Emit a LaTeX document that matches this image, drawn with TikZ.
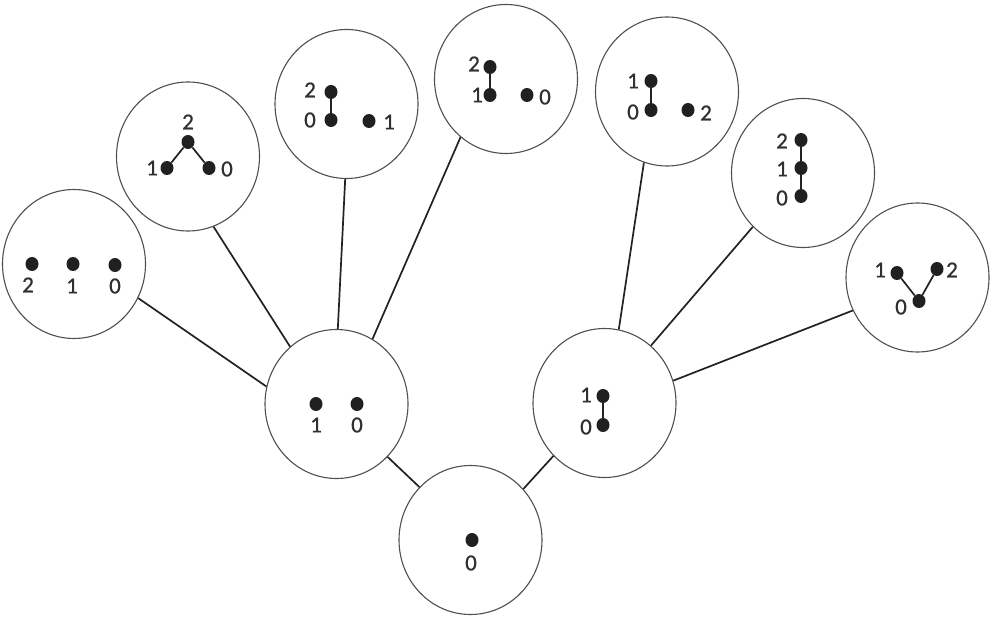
\documentclass[tikz,border=0pt]{standalone}
\usepackage{fontspec}
\setmainfont{Carlito}
\newfontfamily\labfont{Carlito}[FakeBold=0.7]
\usetikzlibrary{shapes.geometric}
\definecolor{circc}{HTML}{505050}
\definecolor{dotc}{HTML}{202020}
\definecolor{linec}{HTML}{222222}
\definecolor{labc}{HTML}{303030}
\begin{document}
\begin{tikzpicture}[x=1pt,y=-1pt,
  big/.style={ellipse, draw=circc, line width=1.1pt, minimum width=143pt, minimum height=149pt, inner sep=0pt, fill=white},
  pt/.style={ellipse, fill=dotc, minimum width=13pt, minimum height=14pt, inner sep=0pt},
  lab/.style={font=\labfont\fontsize{23}{23}\selectfont, text=labc, inner sep=0pt},
  conn/.style={line width=1.7pt, draw=linec},
  bond/.style={line width=1.7pt, draw=linec}]
\useasboundingbox (0,0) rectangle (992,617);
\fill[white] (0,0) rectangle (992,617);
% circles
\node[big] (r) at (470.5,540) {};
\node[big] (a) at (336.5,404) {};
\node[big] (b) at (604.5,403) {};
\node[big] (c1) at (74,264) {};
\node[big] (c2) at (188,156.5) {};
\node[big] (c3) at (346.5,104) {};
\node[big] (c4) at (506,79) {};
\node[big] (c5) at (667,91.5) {};
\node[big] (c6) at (803,173) {};
\node[big] (c7) at (917.5,277.5) {};
% connectors
\draw[conn] (r.134) -- (a.-46);
\draw[conn] (r.44) -- (b.-134);
\draw[conn] (a.166) -- (c1.-28);
\draw[conn] (a.129) -- (c2.-70);
\draw[conn] (a.89) -- (c3.-91);
\draw[conn] (a.61) -- (c4.-128);
\draw[conn] (b.79) -- (c5.-108);
\draw[conn] (b.51) -- (c6.-133);
\draw[conn] (b.18) -- (c7.-153);
% root
\node[pt] (r0) at (472,540) {};
\node[lab] (r0l) at (471,563) {0};
% a
\node[pt] (a1) at (316,404) {};
\node[pt] (a0) at (357,404) {};
\node[lab] (a1l) at (316,425) {1};
\node[lab] (a0l) at (357,425) {0};
% b
\node[pt] (b1) at (603,396) {};
\node[pt] (b0) at (603,425) {};
\draw[bond] (b1) -- (b0);
\node[lab] (b1l) at (586,395) {1};
\node[lab] (b0l) at (586,427) {0};
% c1
\node[pt] (c1d2) at (32,264) {};
\node[pt] (c1d1) at (73,264) {};
\node[pt] (c1d0) at (115,265) {};
\node[lab] (c1l2) at (28,285) {2};
\node[lab] (c1l1) at (72,286) {1};
\node[lab] (c1l0) at (115,286) {0};
% c2
\node[pt] (c2d2) at (188,142) {};
\node[pt] (c2d1) at (167,168) {};
\node[pt] (c2d0) at (209,168) {};
\draw[bond] (c2d2) -- (c2d1);
\draw[bond] (c2d2) -- (c2d0);
\node[lab] (c2l2) at (188,122) {2};
\node[lab] (c2l1) at (152,168) {1};
\node[lab] (c2l0) at (227,169) {0};
% c3
\node[pt] (c3d2) at (331,92) {};
\node[pt] (c3d0) at (331,120) {};
\node[pt] (c3d1) at (369,121) {};
\draw[bond] (c3d2) -- (c3d0);
\node[lab] (c3l2) at (310,90) {2};
\node[lab] (c3l0) at (310,120) {0};
\node[lab] (c3l1) at (389,122) {1};
% c4
\node[pt] (c4d2) at (490,67) {};
\node[pt] (c4d1) at (490,95) {};
\node[pt] (c4d0) at (527,95) {};
\draw[bond] (c4d2) -- (c4d1);
\node[lab] (c4l2) at (474,64) {2};
\node[lab] (c4l1) at (477,95) {1};
\node[lab] (c4l0) at (545,97) {0};
% c5
\node[pt] (c5d1) at (651,81) {};
\node[pt] (c5d0) at (651,110) {};
\node[pt] (c5d2) at (688,110) {};
\draw[bond] (c5d1) -- (c5d0);
\node[lab] (c5l1) at (633,81) {1};
\node[lab] (c5l0) at (633,112) {0};
\node[lab] (c5l2) at (706,113) {2};
% c6
\node[pt] (c6d2) at (801,140) {};
\node[pt] (c6d1) at (801,168) {};
\node[pt] (c6d0) at (801,196) {};
\draw[bond] (c6d2) -- (c6d1) -- (c6d0);
\node[lab] (c6l2) at (782,141) {2};
\node[lab] (c6l1) at (782,169) {1};
\node[lab] (c6l0) at (782,198) {0};
% c7
\node[pt] (c7d1) at (897,273) {};
\node[pt] (c7d2) at (937,269) {};
\node[pt] (c7d0) at (919,301) {};
\draw[bond] (c7d1) -- (c7d0) -- (c7d2);
\node[lab] (c7l1) at (880,270) {1};
\node[lab] (c7l2) at (952,270) {2};
\node[lab] (c7l0) at (901,307) {0};
\end{tikzpicture}
\end{document}
